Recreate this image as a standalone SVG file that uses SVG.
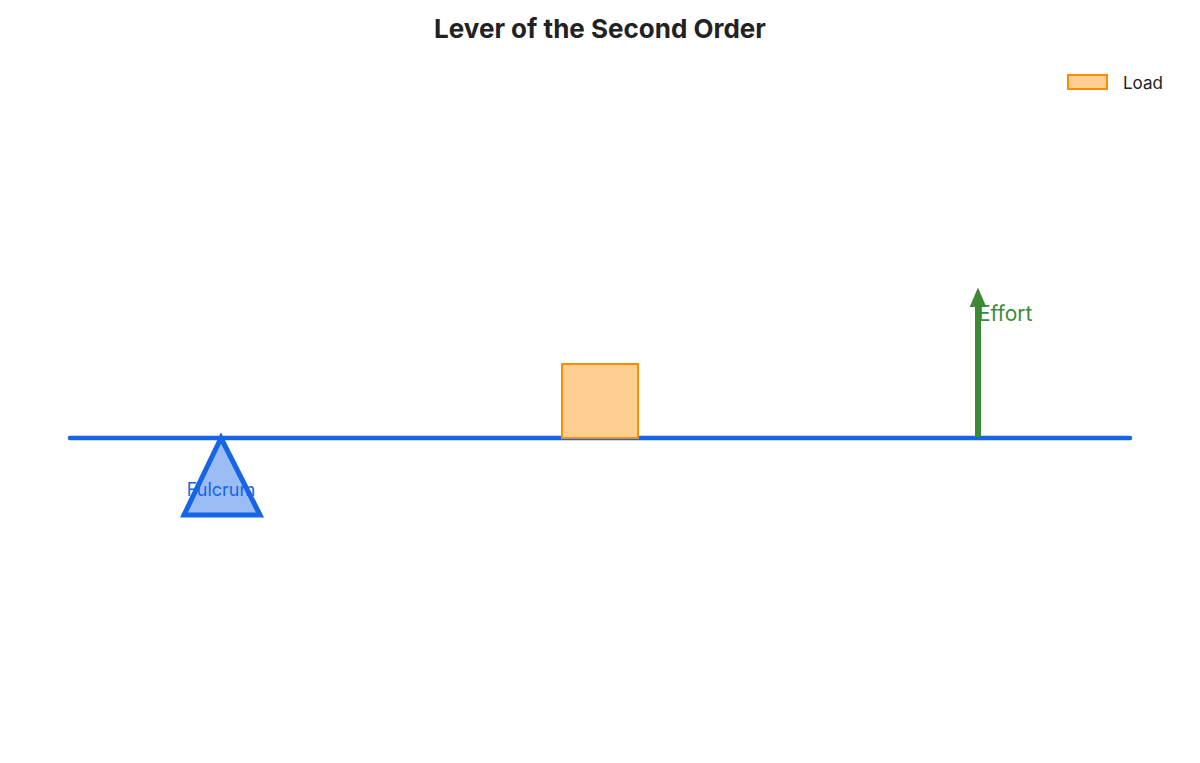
<svg xmlns="http://www.w3.org/2000/svg" width="1200" height="763" viewBox="0 0 1200 763">
<style>
text{font-family:Inter,"Noto Sans",sans-serif}
.title{font-size:26px;font-weight:700;fill:#222}
</style>
<defs><marker id="ah" markerWidth="3.3" markerHeight="2.8" refX="0.2" refY="1.4" orient="auto" markerUnits="strokeWidth"><path d="M0,0 L3.3,1.4 L0,2.8 Z" fill="#3d8a35"/></marker></defs>
<rect width="1200" height="763" fill="#fff"/>
<text class="title" x="600" y="38" text-anchor="middle">Lever of the Second Order</text>
<g id="legend"><rect x="1068" y="75" width="39" height="14" fill="#ffcf91" stroke="#ff8c00" stroke-width="2"/><text x="1123" y="89" font-size="17" fill="#222">Load</text></g>
<g id="lever"><line x1="70" y1="438" x2="1130" y2="438" stroke="#1565e6" stroke-width="4.5" stroke-linecap="round"/></g>
<g id="fulcrum"><polygon points="221,438 184,515 260,515" fill="#9bbcf5" stroke="#1565e6" stroke-width="5"/><text x="221" y="496" font-size="18" fill="#1565e6" text-anchor="middle">Fulcrum</text></g>
<g id="load"><rect x="562" y="364" width="76" height="74" fill="#ffcf91" stroke="#ff8c00" stroke-width="2"/></g>
<g id="effort"><line x1="978" y1="437" x2="978" y2="306" stroke="#3d8a35" stroke-width="6" marker-end="url(#ah)"/><text x="978" y="321" font-size="21" fill="#3d8a35">Effort</text></g>
</svg>
